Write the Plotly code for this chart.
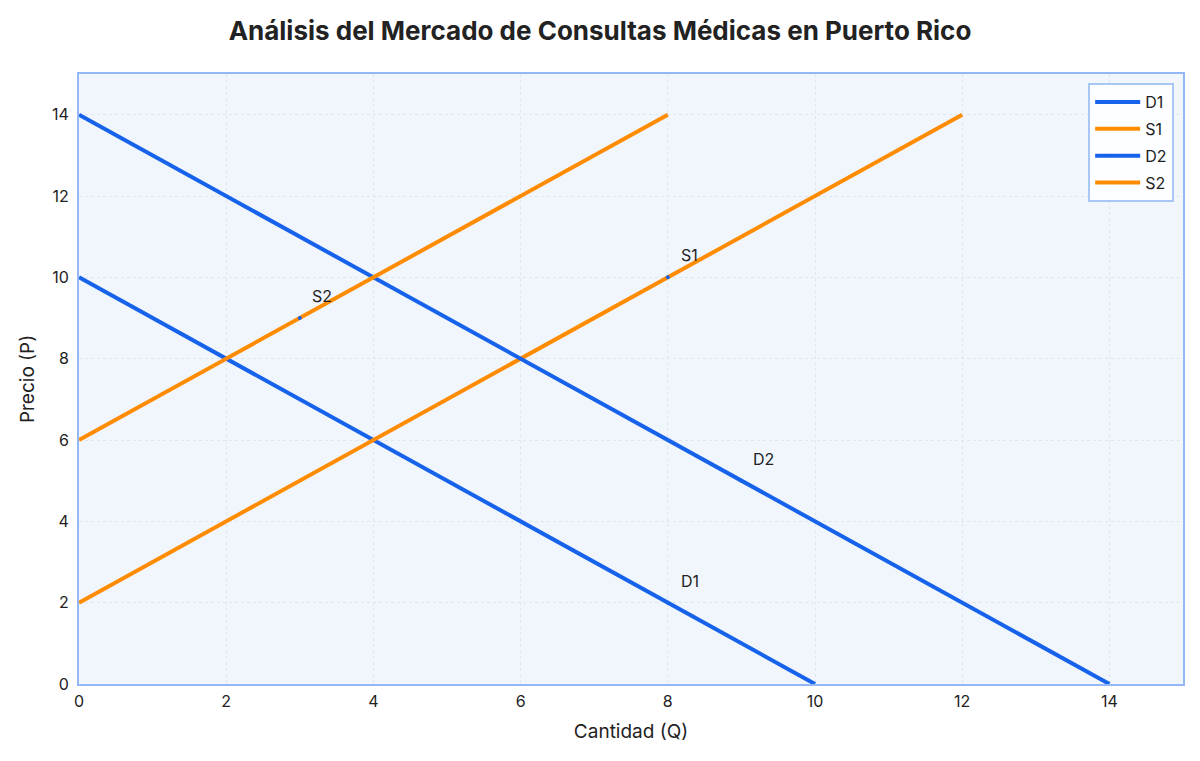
import plotly.graph_objects as go

# Data
d1_q = [0, 10]
d1_p = [10, 0]
s1_q = [0, 12]
s1_p = [2, 14]
d2_q = [0, 14]
d2_p = [14, 0]
s2_q = [0, 8]
s2_p = [6, 14]

label_text = ["D1", "D2", "S1", "S2"]
label_q = [8, 9, 8, 3]
label_p = [2, 5, 10, 9]

blue = "#1662ea"
orange = "#ff8c00"
font_family = "Inter, Lato, sans-serif"

fig = go.Figure()
series = [("D1", d1_q, d1_p, blue), ("S1", s1_q, s1_p, orange),
          ("D2", d2_q, d2_p, blue), ("S2", s2_q, s2_p, orange)]
for name, q, p, c in series:
    fig.add_trace(go.Scatter(x=q, y=p, mode="lines", name=name, legendgroup=name,
                             line=dict(color=c, width=4)))
fig.add_trace(go.Scatter(x=label_q, y=label_p, mode="markers", showlegend=False,
                         marker=dict(color=blue, size=4), hoverinfo="skip"))

for t, q, p in zip(label_text, label_q, label_p):
    fig.add_annotation(x=q, y=p, text=t, showarrow=False, xshift=22, yshift=22,
                       font=dict(size=16, color="#222222", family=font_family))

fig.update_layout(
    width=1200, height=761,
    margin=dict(l=79, r=17, t=74, b=77),
    paper_bgcolor="white",
    plot_bgcolor="#f1f6fd",
    font=dict(family=font_family, color="#222222", size=16),
    title=dict(text="<b>Análisis del Mercado de Consultas Médicas en Puerto Rico</b>",
               x=0.5, xanchor="center", y=0.96, yanchor="middle",
               font=dict(size=26, color="#222222", family=font_family)),
    legend=dict(x=0.992, y=0.985, xanchor="right", yanchor="top",
                bgcolor="rgba(255,255,255,0.85)", bordercolor="#a9c7f5", borderwidth=2,
                font=dict(size=16), tracegroupgap=3, itemwidth=45),
)
fig.update_xaxes(range=[0, 15], tickvals=[0, 2, 4, 6, 8, 10, 12, 14],
                 title=dict(text="Cantidad (Q)", font=dict(size=19), standoff=14),
                 showgrid=True, gridcolor="#dde6f2", griddash="dot", zeroline=False,
                 showline=True, linecolor="#93b8f5", linewidth=2, mirror=True,
                 ticks="outside", ticklen=2, tickcolor="rgba(0,0,0,0)", tickfont=dict(size=16))
fig.update_yaxes(range=[0, 15], tickvals=[0, 2, 4, 6, 8, 10, 12, 14],
                 title=dict(text="Precio (P)", font=dict(size=19), standoff=12),
                 showgrid=True, gridcolor="#dde6f2", griddash="dot", zeroline=False,
                 showline=True, linecolor="#93b8f5", linewidth=2, mirror=True,
                 ticks="outside", ticklen=5, tickcolor="rgba(0,0,0,0)", tickfont=dict(size=16))

fig.write_html("out.html")
